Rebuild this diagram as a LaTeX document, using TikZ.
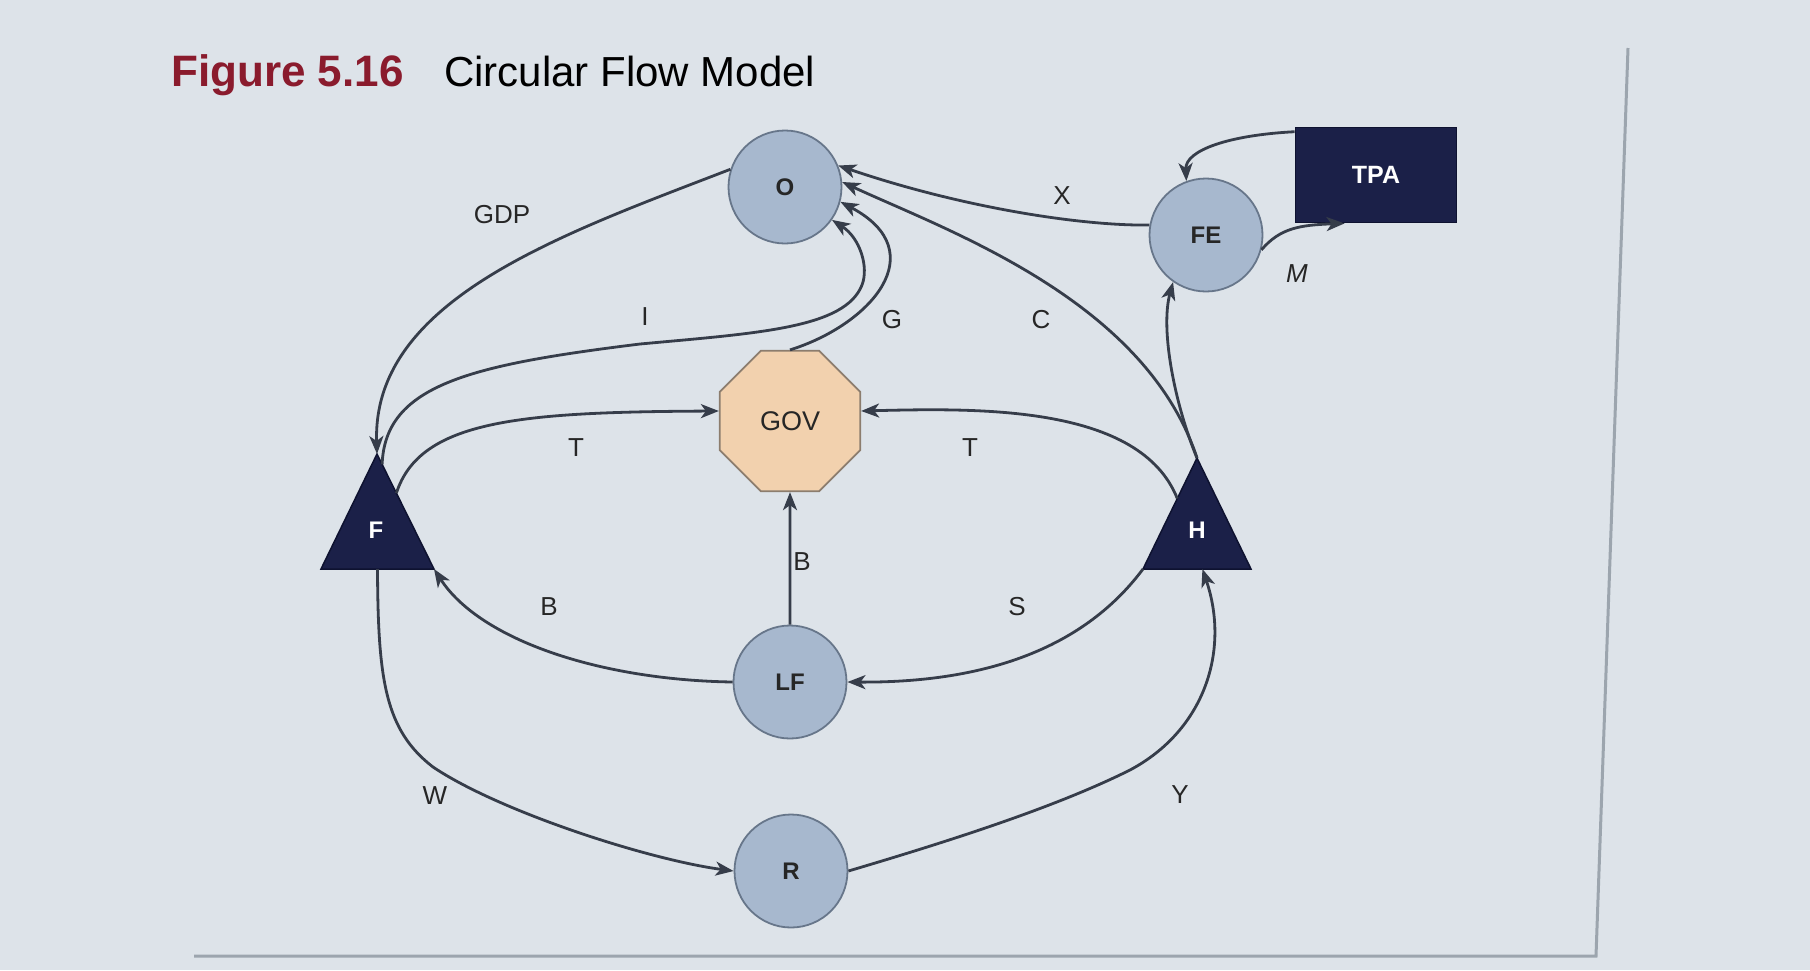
\documentclass[tikz,border=0pt]{standalone}
\usepackage{fontspec}
\setmainfont{Liberation Sans}
\usetikzlibrary{shapes.geometric,arrows.meta,calc}
\definecolor{bg}{HTML}{DDE3E9}
\definecolor{circfill}{HTML}{A7B8CE}
\definecolor{circline}{HTML}{67768A}
\definecolor{navy}{HTML}{1B2048}
\definecolor{navyline}{HTML}{0E1230}
\definecolor{peach}{HTML}{F2D1AE}
\definecolor{peachline}{HTML}{8C7D6E}
\definecolor{edgec}{HTML}{363D4A}
\definecolor{titlered}{HTML}{8A1B2D}
\definecolor{framec}{HTML}{9CA5AE}
\begin{document}
\begin{tikzpicture}[x=1pt,y=-1pt,
  circ/.style={circle,draw=circline,line width=1.8pt,fill=circfill,minimum size=113pt,inner sep=0pt,
    font=\fontsize{24}{28}\selectfont\bfseries,text=black!85},
  gov/.style={regular polygon,regular polygon sides=8,minimum size=152pt,inner sep=0pt,
    draw=peachline,line width=1.8pt,fill=peach,font=\fontsize{27}{31}\selectfont,text=black!85},
  tpa/.style={rectangle,minimum width=161pt,minimum height=95pt,inner sep=0pt,
    draw=navyline,line width=1.8pt,fill=navy,font=\fontsize{25}{29}\selectfont\bfseries,text=white},
  tri/.style={draw=navyline,line width=1.5pt,fill=navy,line join=miter},
  trilabel/.style={inner sep=0pt,font=\fontsize{24}{28}\selectfont\bfseries,text=white},
  conn/.style={draw=edgec,line width=2.8pt,-{Stealth[length=18pt,width=14pt,inset=5pt]}},
  elabel/.style={inner sep=0pt,font=\fontsize{26}{30}\selectfont,text=black!85},
  frameline/.style={draw=framec,line width=3pt}
]
\useasboundingbox (0,0) rectangle (1810,970);
\fill[bg] (0,0) rectangle (1810,970);

% frame
\draw[frameline] (1628,48) -- (1596,956) -- (194,956);

% title
\node[anchor=base west,inner sep=0pt,font=\fontsize{44}{50}\selectfont\bfseries,text=titlered] (t1) at (171,86) {Figure 5.16};
\node[anchor=base west,inner sep=0pt,font=\fontsize{42}{50}\selectfont,text=black] (t2) at (444,86) {Circular Flow Model};

% nodes
\node[circ] (O) at (785,187) {O};
\node[circ] (FE) at (1206,235) {FE};
\node[circ] (LF) at (790,682) {LF};
\node[circ] (R) at (791,871) {R};
\node[gov] (GOV) at (790,421) {GOV};
\node[tpa] (TPA) at (1376,175) {TPA};

% triangles
\coordinate (Fa) at (377,454); \coordinate (Fl) at (321,569); \coordinate (Fr) at (434,569);
\coordinate (Ha) at (1197,458); \coordinate (Hl) at (1143,569); \coordinate (Hr) at (1251,569);
\path[tri] (Fa) -- (Fl) -- (Fr) -- cycle;
\path[tri] (Ha) -- (Hl) -- (Hr) -- cycle;
\node[trilabel] (F) at (376,530) {F};
\node[trilabel] (H) at (1197,530) {H};

\coordinate (FsI) at ($(Fa)!0.09!(Fr)$);
\coordinate (FsT) at ($(Fa)!0.34!(Fr)$);
\coordinate (FsW) at ($(Fl)!0.5!(Fr)$);
\coordinate (HsT) at ($(Ha)!0.365!(Hl)$);
\coordinate (HsY) at ($(Hl)!0.55!(Hr)$);

% connectors
\draw[conn] (O.162) .. controls (560,235) and (372,300) .. (Fa);
\draw[conn] (FsI) .. controls (385,385) and (470,365) .. (640,344) .. controls (760,333) and (845,328) .. (862,285) .. controls (869,267) and (860,238) .. (O.-35);
\draw[conn] (GOV.north) .. controls (870,325) and (935,252) .. (O.-15);
\draw[conn] (Ha) .. controls (1145,300) and (948,231) .. (O.5);
\draw[conn] (FE.170) .. controls (1080,226) and (960,207) .. (O.22);
\draw[conn] (Ha) .. controls (1175,405) and (1160,330) .. (FE.-125);
\draw[conn] (TPA.152) .. controls (1230,135) and (1185,150) .. (FE.110);
\draw[conn] (FE.-15) .. controls (1280,228) and (1300,225) .. (TPA.-123);
\draw[conn] (FsT) .. controls (420,420) and (520,412) .. (GOV.172);
\draw[conn] (HsT) .. controls (1140,405) and (980,408) .. (GOV.8);
\draw[conn] (LF.north) -- (GOV.south);
\draw[conn] (LF.west) .. controls (600,680) and (480,640) .. (Fr);
\draw[conn] (Hl) .. controls (1090,640) and (1000,683) .. (LF.east);
\draw[conn] (FsW) .. controls (378,680) and (385,730) .. (433,767) .. controls (500,812) and (650,860) .. (R.west);
\draw[conn] (R.east) .. controls (960,838) and (1060,805) .. (1130,770) .. controls (1205,730) and (1230,650) .. (HsY);

% labels
\node[elabel] (lGDP) at (502,215) {GDP};
\node[elabel] (lI) at (645,317) {I};
\node[elabel] (lG) at (892,320) {G};
\node[elabel] (lC) at (1041,320) {C};
\node[elabel] (lX) at (1062,196) {X};
\node[elabel,font=\fontsize{26}{30}\selectfont\itshape] (lM) at (1297,274) {M};
\node[elabel] (lT1) at (576,448) {T};
\node[elabel] (lT2) at (970,448) {T};
\node[elabel] (lB1) at (802,562) {B};
\node[elabel] (lB2) at (549,607) {B};
\node[elabel] (lS) at (1017,607) {S};
\node[elabel] (lW) at (435,796) {W};
\node[elabel] (lY) at (1180,795) {Y};
\end{tikzpicture}
\end{document}
